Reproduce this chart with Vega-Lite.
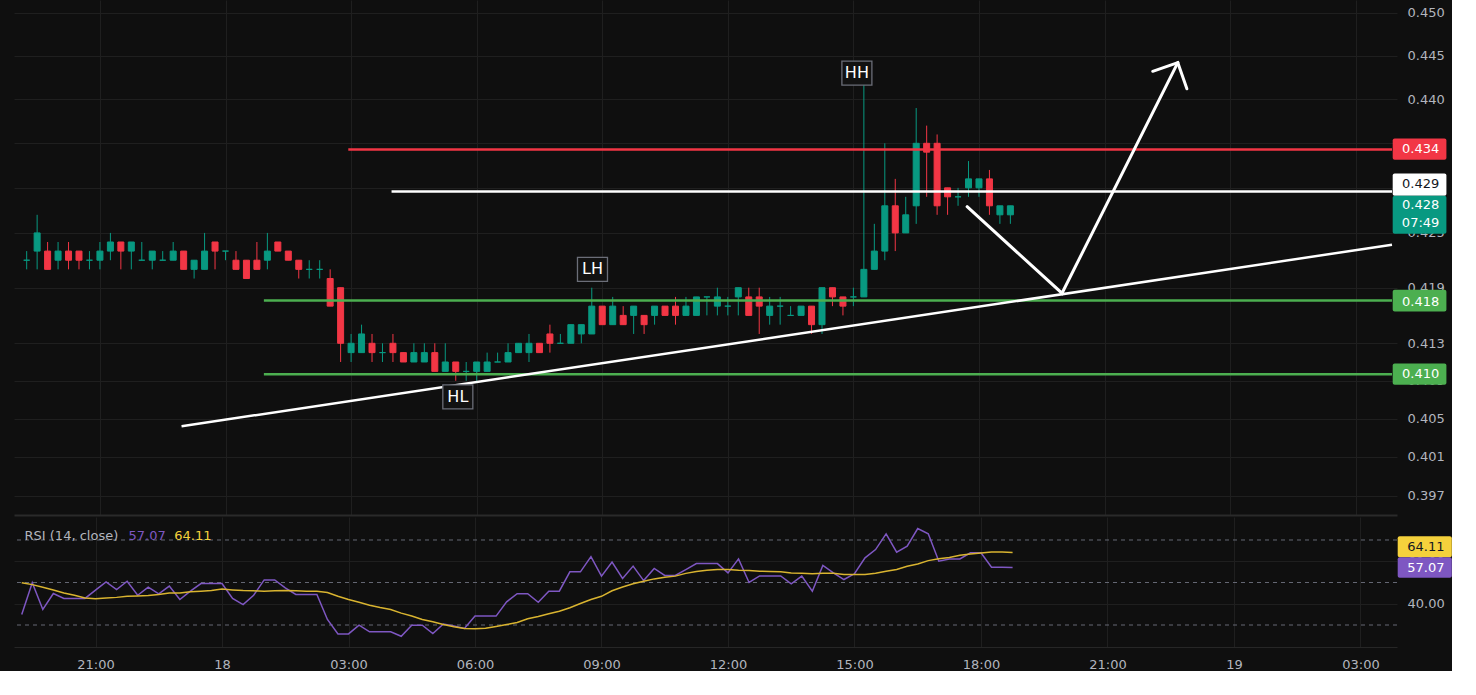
{
  "$schema": "https://vega.github.io/schema/vega-lite/v6.json",
  "background": "#0f0f0f",
  "padding": {"left": 13, "top": 0, "right": 0, "bottom": 0},
  "config": {
    "view": {"stroke": null},
    "font": "DejaVu Sans",
    "axis": {"labelFont": "DejaVu Sans", "labelFontSize": 13, "labelColor": "#b2b5be", "ticks": false, "domain": false, "gridColor": "#1f1f1f", "labelFlush": false},
    "concat": {"spacing": 2}
  },
  "datasets": {
    "candles": [
      {"t":"2024-05-17T19:15Z","o":0.422,"h":0.423,"l":0.421,"c":0.422,"rsi":34.9,"ma":49.9},
      {"t":"2024-05-17T19:30Z","o":0.423,"h":0.427,"l":0.421,"c":0.425,"rsi":49.9,"ma":49.0},
      {"t":"2024-05-17T19:45Z","o":0.423,"h":0.424,"l":0.421,"c":0.421,"rsi":37.3,"ma":47.8},
      {"t":"2024-05-17T20:00Z","o":0.422,"h":0.424,"l":0.421,"c":0.423,"rsi":44.8,"ma":46.5},
      {"t":"2024-05-17T20:15Z","o":0.423,"h":0.424,"l":0.421,"c":0.422,"rsi":42.5,"ma":45.1},
      {"t":"2024-05-17T20:30Z","o":0.423,"h":0.423,"l":0.421,"c":0.422,"rsi":42.5,"ma":44.0},
      {"t":"2024-05-17T20:45Z","o":0.422,"h":0.423,"l":0.421,"c":0.422,"rsi":42.5,"ma":42.7},
      {"t":"2024-05-17T21:00Z","o":0.422,"h":0.424,"l":0.421,"c":0.423,"rsi":46.4,"ma":42.4},
      {"t":"2024-05-17T21:15Z","o":0.423,"h":0.425,"l":0.422,"c":0.424,"rsi":50.3,"ma":42.7},
      {"t":"2024-05-17T21:30Z","o":0.424,"h":0.424,"l":0.421,"c":0.423,"rsi":46.7,"ma":43.0},
      {"t":"2024-05-17T21:45Z","o":0.423,"h":0.424,"l":0.421,"c":0.424,"rsi":50.6,"ma":43.5},
      {"t":"2024-05-17T22:00Z","o":0.422,"h":0.424,"l":0.422,"c":0.422,"rsi":44.0,"ma":43.7},
      {"t":"2024-05-17T22:15Z","o":0.422,"h":0.423,"l":0.421,"c":0.423,"rsi":47.8,"ma":43.9},
      {"t":"2024-05-17T22:30Z","o":0.422,"h":0.423,"l":0.422,"c":0.422,"rsi":44.7,"ma":44.4},
      {"t":"2024-05-17T22:45Z","o":0.422,"h":0.424,"l":0.422,"c":0.423,"rsi":48.3,"ma":45.1},
      {"t":"2024-05-17T23:00Z","o":0.423,"h":0.423,"l":0.421,"c":0.421,"rsi":42.0,"ma":45.1},
      {"t":"2024-05-17T23:15Z","o":0.421,"h":0.422,"l":0.420,"c":0.422,"rsi":45.9,"ma":45.6},
      {"t":"2024-05-17T23:30Z","o":0.421,"h":0.425,"l":0.421,"c":0.423,"rsi":49.5,"ma":45.9},
      {"t":"2024-05-17T23:45Z","o":0.424,"h":0.424,"l":0.421,"c":0.423,"rsi":49.5,"ma":46.2},
      {"t":"2024-05-18T00:00Z","o":0.423,"h":0.423,"l":0.422,"c":0.423,"rsi":49.5,"ma":46.9},
      {"t":"2024-05-18T00:15Z","o":0.422,"h":0.423,"l":0.421,"c":0.421,"rsi":42.5,"ma":46.5},
      {"t":"2024-05-18T00:30Z","o":0.422,"h":0.422,"l":0.420,"c":0.420,"rsi":39.6,"ma":46.2},
      {"t":"2024-05-18T00:45Z","o":0.422,"h":0.424,"l":0.421,"c":0.421,"rsi":44.0,"ma":46.1},
      {"t":"2024-05-18T01:00Z","o":0.422,"h":0.425,"l":0.421,"c":0.423,"rsi":51.2,"ma":45.9},
      {"t":"2024-05-18T01:15Z","o":0.424,"h":0.424,"l":0.423,"c":0.423,"rsi":51.2,"ma":46.1},
      {"t":"2024-05-18T01:30Z","o":0.423,"h":0.423,"l":0.422,"c":0.422,"rsi":47.5,"ma":46.2},
      {"t":"2024-05-18T01:45Z","o":0.422,"h":0.422,"l":0.420,"c":0.421,"rsi":44.4,"ma":46.1},
      {"t":"2024-05-18T02:00Z","o":0.421,"h":0.422,"l":0.420,"c":0.421,"rsi":44.4,"ma":45.9},
      {"t":"2024-05-18T02:15Z","o":0.421,"h":0.422,"l":0.420,"c":0.421,"rsi":44.4,"ma":45.9},
      {"t":"2024-05-18T02:30Z","o":0.420,"h":0.421,"l":0.417,"c":0.417,"rsi":32.6,"ma":45.3},
      {"t":"2024-05-18T02:45Z","o":0.419,"h":0.419,"l":0.411,"c":0.413,"rsi":25.8,"ma":43.5},
      {"t":"2024-05-18T03:00Z","o":0.412,"h":0.414,"l":0.411,"c":0.413,"rsi":25.8,"ma":42.0},
      {"t":"2024-05-18T03:15Z","o":0.412,"h":0.415,"l":0.412,"c":0.414,"rsi":29.9,"ma":40.7},
      {"t":"2024-05-18T03:30Z","o":0.413,"h":0.414,"l":0.411,"c":0.412,"rsi":26.8,"ma":39.3},
      {"t":"2024-05-18T03:45Z","o":0.412,"h":0.413,"l":0.411,"c":0.412,"rsi":26.8,"ma":38.2},
      {"t":"2024-05-18T04:00Z","o":0.413,"h":0.414,"l":0.411,"c":0.412,"rsi":26.8,"ma":37.3},
      {"t":"2024-05-18T04:15Z","o":0.412,"h":0.412,"l":0.411,"c":0.411,"rsi":24.7,"ma":35.6},
      {"t":"2024-05-18T04:30Z","o":0.411,"h":0.413,"l":0.411,"c":0.412,"rsi":29.9,"ma":34.2},
      {"t":"2024-05-18T04:45Z","o":0.411,"h":0.413,"l":0.411,"c":0.412,"rsi":29.9,"ma":32.6},
      {"t":"2024-05-18T05:00Z","o":0.412,"h":0.413,"l":0.410,"c":0.410,"rsi":26.0,"ma":31.5},
      {"t":"2024-05-18T05:15Z","o":0.410,"h":0.413,"l":0.410,"c":0.411,"rsi":30.5,"ma":30.2},
      {"t":"2024-05-18T05:30Z","o":0.411,"h":0.411,"l":0.409,"c":0.410,"rsi":29.5,"ma":29.2},
      {"t":"2024-05-18T05:45Z","o":0.410,"h":0.411,"l":0.409,"c":0.410,"rsi":28.4,"ma":28.4},
      {"t":"2024-05-18T06:00Z","o":0.410,"h":0.411,"l":0.409,"c":0.411,"rsi":34.2,"ma":28.2},
      {"t":"2024-05-18T06:15Z","o":0.410,"h":0.412,"l":0.410,"c":0.411,"rsi":34.2,"ma":28.5},
      {"t":"2024-05-18T06:30Z","o":0.411,"h":0.412,"l":0.411,"c":0.411,"rsi":34.2,"ma":29.3},
      {"t":"2024-05-18T06:45Z","o":0.411,"h":0.413,"l":0.411,"c":0.412,"rsi":40.9,"ma":30.2},
      {"t":"2024-05-18T07:00Z","o":0.412,"h":0.413,"l":0.412,"c":0.413,"rsi":44.7,"ma":31.2},
      {"t":"2024-05-18T07:15Z","o":0.412,"h":0.414,"l":0.411,"c":0.413,"rsi":44.7,"ma":32.9},
      {"t":"2024-05-18T07:30Z","o":0.413,"h":0.413,"l":0.412,"c":0.412,"rsi":40.7,"ma":34.0},
      {"t":"2024-05-18T07:45Z","o":0.414,"h":0.415,"l":0.412,"c":0.413,"rsi":45.9,"ma":35.3},
      {"t":"2024-05-18T08:00Z","o":0.413,"h":0.414,"l":0.413,"c":0.413,"rsi":45.9,"ma":36.5},
      {"t":"2024-05-18T08:15Z","o":0.413,"h":0.415,"l":0.413,"c":0.415,"rsi":55.0,"ma":38.1},
      {"t":"2024-05-18T08:30Z","o":0.414,"h":0.415,"l":0.413,"c":0.415,"rsi":55.0,"ma":40.1},
      {"t":"2024-05-18T08:45Z","o":0.414,"h":0.419,"l":0.414,"c":0.417,"rsi":62.2,"ma":42.0},
      {"t":"2024-05-18T09:00Z","o":0.417,"h":0.417,"l":0.415,"c":0.415,"rsi":53.0,"ma":43.5},
      {"t":"2024-05-18T09:15Z","o":0.415,"h":0.418,"l":0.415,"c":0.417,"rsi":59.6,"ma":46.1},
      {"t":"2024-05-18T09:30Z","o":0.416,"h":0.417,"l":0.415,"c":0.415,"rsi":51.9,"ma":47.9},
      {"t":"2024-05-18T09:45Z","o":0.416,"h":0.417,"l":0.414,"c":0.417,"rsi":57.7,"ma":49.4},
      {"t":"2024-05-18T10:00Z","o":0.416,"h":0.416,"l":0.414,"c":0.415,"rsi":50.9,"ma":50.6},
      {"t":"2024-05-18T10:15Z","o":0.416,"h":0.417,"l":0.415,"c":0.417,"rsi":56.6,"ma":51.7},
      {"t":"2024-05-18T10:30Z","o":0.417,"h":0.417,"l":0.416,"c":0.416,"rsi":53.3,"ma":52.5},
      {"t":"2024-05-18T10:45Z","o":0.417,"h":0.418,"l":0.415,"c":0.416,"rsi":53.3,"ma":53.0},
      {"t":"2024-05-18T11:00Z","o":0.416,"h":0.418,"l":0.416,"c":0.417,"rsi":56.1,"ma":54.3},
      {"t":"2024-05-18T11:15Z","o":0.416,"h":0.418,"l":0.416,"c":0.418,"rsi":58.9,"ma":55.2},
      {"t":"2024-05-18T11:30Z","o":0.418,"h":0.418,"l":0.416,"c":0.418,"rsi":58.9,"ma":55.8},
      {"t":"2024-05-18T11:45Z","o":0.417,"h":0.419,"l":0.416,"c":0.418,"rsi":58.9,"ma":56.1},
      {"t":"2024-05-18T12:00Z","o":0.417,"h":0.418,"l":0.416,"c":0.417,"rsi":54.5,"ma":56.1},
      {"t":"2024-05-18T12:15Z","o":0.418,"h":0.419,"l":0.416,"c":0.419,"rsi":61.1,"ma":55.8},
      {"t":"2024-05-18T12:30Z","o":0.418,"h":0.419,"l":0.416,"c":0.416,"rsi":50.0,"ma":55.7},
      {"t":"2024-05-18T12:45Z","o":0.418,"h":0.419,"l":0.414,"c":0.417,"rsi":53.1,"ma":55.3},
      {"t":"2024-05-18T13:00Z","o":0.416,"h":0.418,"l":0.415,"c":0.417,"rsi":53.1,"ma":55.2},
      {"t":"2024-05-18T13:15Z","o":0.417,"h":0.418,"l":0.415,"c":0.417,"rsi":53.1,"ma":55.0},
      {"t":"2024-05-18T13:30Z","o":0.416,"h":0.417,"l":0.416,"c":0.416,"rsi":49.4,"ma":54.5},
      {"t":"2024-05-18T13:45Z","o":0.416,"h":0.417,"l":0.416,"c":0.417,"rsi":53.0,"ma":54.4},
      {"t":"2024-05-18T14:00Z","o":0.417,"h":0.417,"l":0.414,"c":0.415,"rsi":45.9,"ma":54.1},
      {"t":"2024-05-18T14:15Z","o":0.415,"h":0.419,"l":0.414,"c":0.419,"rsi":58.0,"ma":54.4},
      {"t":"2024-05-18T14:30Z","o":0.419,"h":0.419,"l":0.417,"c":0.418,"rsi":54.5,"ma":54.3},
      {"t":"2024-05-18T14:45Z","o":0.418,"h":0.418,"l":0.416,"c":0.417,"rsi":51.4,"ma":53.8},
      {"t":"2024-05-18T15:00Z","o":0.418,"h":0.419,"l":0.417,"c":0.418,"rsi":54.1,"ma":53.8},
      {"t":"2024-05-18T15:15Z","o":0.418,"h":0.442,"l":0.418,"c":0.421,"rsi":61.6,"ma":53.8},
      {"t":"2024-05-18T15:30Z","o":0.421,"h":0.426,"l":0.421,"c":0.423,"rsi":65.5,"ma":54.4},
      {"t":"2024-05-18T15:45Z","o":0.423,"h":0.435,"l":0.422,"c":0.428,"rsi":72.9,"ma":55.3},
      {"t":"2024-05-18T16:00Z","o":0.428,"h":0.431,"l":0.423,"c":0.425,"rsi":64.3,"ma":56.1},
      {"t":"2024-05-18T16:15Z","o":0.425,"h":0.429,"l":0.425,"c":0.427,"rsi":67.1,"ma":57.6},
      {"t":"2024-05-18T16:30Z","o":0.428,"h":0.439,"l":0.426,"c":0.435,"rsi":75.4,"ma":58.7},
      {"t":"2024-05-18T16:45Z","o":0.435,"h":0.437,"l":0.429,"c":0.434,"rsi":72.9,"ma":60.3},
      {"t":"2024-05-18T17:00Z","o":0.435,"h":0.436,"l":0.427,"c":0.428,"rsi":60.0,"ma":61.2},
      {"t":"2024-05-18T17:15Z","o":0.430,"h":0.430,"l":0.427,"c":0.429,"rsi":61.1,"ma":61.8},
      {"t":"2024-05-18T17:30Z","o":0.429,"h":0.430,"l":0.428,"c":0.429,"rsi":61.1,"ma":62.8},
      {"t":"2024-05-18T17:45Z","o":0.430,"h":0.433,"l":0.429,"c":0.431,"rsi":64.0,"ma":63.4},
      {"t":"2024-05-18T18:00Z","o":0.430,"h":0.431,"l":0.429,"c":0.431,"rsi":64.0,"ma":63.9},
      {"t":"2024-05-18T18:15Z","o":0.431,"h":0.432,"l":0.427,"c":0.428,"rsi":57.2,"ma":64.3},
      {"t":"2024-05-18T18:30Z","o":0.427,"h":0.428,"l":0.426,"c":0.428,"rsi":57.2,"ma":64.3},
      {"t":"2024-05-18T18:45Z","o":0.427,"h":0.428,"l":0.426,"c":0.428,"rsi":57.07,"ma":64.11}
    ],
    "levels": [
      {"kind":"res","p":0.4343,"t0":"2024-05-18T02:56Z","t1":"2024-05-19T03:52Z"},
      {"kind":"piv","p":0.4296,"t0":"2024-05-18T03:58Z","t1":"2024-05-19T03:52Z"},
      {"kind":"sup","p":0.4176,"t0":"2024-05-18T00:55Z","t1":"2024-05-19T03:52Z"},
      {"kind":"sup","p":0.4097,"t0":"2024-05-18T00:55Z","t1":"2024-05-19T03:52Z"}
    ],
    "trend": [
      {"t":"2024-05-17T22:57Z","p":0.4042},
      {"t":"2024-05-19T03:52Z","p":0.4237}
    ],
    "arrow": [
      {"seg":"a","i":0,"t":"2024-05-18T17:43Z","p":0.4279},
      {"seg":"a","i":1,"t":"2024-05-18T19:59Z","p":0.4184},
      {"seg":"a","i":2,"t":"2024-05-18T22:45Z","p":0.4442},
      {"seg":"b","i":0,"t":"2024-05-18T22:09Z","p":0.4432},
      {"seg":"b","i":1,"t":"2024-05-18T22:45Z","p":0.4442},
      {"seg":"b","i":2,"t":"2024-05-18T22:58Z","p":0.4412}
    ],
    "pivots": [
      {"txt":"HH","t":"2024-05-18T15:05Z","p":0.4430},
      {"txt":"LH","t":"2024-05-18T08:46Z","p":0.4210},
      {"txt":"HL","t":"2024-05-18T05:33Z","p":0.4073}
    ],
    "tagboxes": [
      {"kind":"res","p1":0.43553,"p2":0.43316},
      {"kind":"piv","p1":0.43159,"p2":0.42913},
      {"kind":"cur","p1":0.42913,"p2":0.42492},
      {"kind":"sup","p1":0.41879,"p2":0.41641},
      {"kind":"sup","p1":0.41083,"p2":0.40859}
    ],
    "tagtexts": [
      {"txt":"0.434","p":0.4343,"ink":"inkl"},
      {"txt":"0.429","p":0.4304,"ink":"inkd"},
      {"txt":"0.428","p":0.4281,"ink":"inkl"},
      {"txt":"07:49","p":0.4261,"ink":"inkl"},
      {"txt":"0.418","p":0.4175,"ink":"inkl"},
      {"txt":"0.410","p":0.4097,"ink":"inkl"}
    ],
    "rsilevels": [{"v":70},{"v":50},{"v":30}],
    "rsihead": [
      {"txt":"RSI (14, close)","t":"2024-05-17T19:19Z","kind":"head"},
      {"txt":"57.07","t":"2024-05-17T21:47Z","kind":"rsi"},
      {"txt":"64.11","t":"2024-05-17T22:52Z","kind":"ma"}
    ],
    "rsiboxes": [
      {"kind":"ma","p1":71.8,"p2":61.9},
      {"kind":"rsi","p1":61.9,"p2":52.2}
    ],
    "rsitexts": [
      {"txt":"64.11","p":66.85,"ink":"inkd"},
      {"txt":"57.07","p":57.05,"ink":"inkl"}
    ]
  },
  "vconcat": [
    {
      "width": 1383,
      "height": 515,
      "layer": [
        {
          "data": {"name": "candles"},
          "mark": {"type": "rule", "strokeWidth": 1},
          "encoding": {
            "x": {
              "field": "t", "type": "temporal",
              "scale": {"type": "utc", "domain": [
                {"year": 2024, "month": 5, "date": 17, "hours": 19, "minutes": 4, "utc": true},
                {"year": 2024, "month": 5, "date": 19, "hours": 3, "minutes": 52, "utc": true}
              ]},
              "axis": {
                "title": null, "labels": false, "grid": true, "domain": true,
                "domainColor": "#2a2a2a", "domainWidth": 2,
                "values": [
                  {"year": 2024, "month": 5, "date": 17, "hours": 21, "utc": true},
                  {"year": 2024, "month": 5, "date": 18, "hours": 0, "utc": true},
                  {"year": 2024, "month": 5, "date": 18, "hours": 3, "utc": true},
                  {"year": 2024, "month": 5, "date": 18, "hours": 6, "utc": true},
                  {"year": 2024, "month": 5, "date": 18, "hours": 9, "utc": true},
                  {"year": 2024, "month": 5, "date": 18, "hours": 12, "utc": true},
                  {"year": 2024, "month": 5, "date": 18, "hours": 15, "utc": true},
                  {"year": 2024, "month": 5, "date": 18, "hours": 18, "utc": true},
                  {"year": 2024, "month": 5, "date": 18, "hours": 21, "utc": true},
                  {"year": 2024, "month": 5, "date": 19, "hours": 0, "utc": true},
                  {"year": 2024, "month": 5, "date": 19, "hours": 3, "utc": true}
                ]
              }
            },
            "y": {
              "field": "l", "type": "quantitative",
              "scale": {"type": "log", "domain": [0.395, 0.45148], "nice": false},
              "axis": {
                "title": null, "orient": "right", "grid": true, "format": ".3f", "labelPadding": 10,
                "values": [0.397, 0.401, 0.405, 0.409, 0.413, 0.419, 0.425, 0.43, 0.435, 0.44, 0.445, 0.45]
              }
            },
            "y2": {"field": "h"},
            "color": {"condition": {"test": "datum.c >= datum.o", "value": "#089981"}, "value": "#f23645"}
          }
        },
        {
          "data": {"name": "candles"},
          "mark": {"type": "bar", "width": 6, "strokeWidth": 1},
          "encoding": {
            "x": {"field": "t", "type": "temporal"},
            "y": {"field": "o", "type": "quantitative"},
            "y2": {"field": "c"},
            "color": {"condition": {"test": "datum.c >= datum.o", "value": "#089981"}, "value": "#f23645"},
            "stroke": {"condition": {"test": "datum.c >= datum.o", "value": "#089981"}, "value": "#f23645"}
          }
        },
        {
          "mark": {"type": "rule", "color": "#089981", "strokeDash": [1, 3], "strokeWidth": 1},
          "encoding": {"y": {"datum": 0.428, "type": "quantitative"}}
        },
        {
          "data": {"name": "levels"},
          "mark": {"type": "rule", "strokeWidth": 2.5},
          "encoding": {
            "x": {"field": "t0", "type": "temporal"},
            "x2": {"field": "t1"},
            "y": {"field": "p", "type": "quantitative"},
            "color": {
              "field": "kind", "type": "nominal", "legend": null,
              "scale": {"domain": ["res", "piv", "sup", "cur", "inkl", "inkd"], "range": ["#f23645", "#ffffff", "#4caf50", "#089981", "#ffffff", "#131722"]}
            }
          }
        },
        {
          "data": {"name": "trend"},
          "mark": {"type": "line", "color": "#ffffff", "strokeWidth": 2.5},
          "encoding": {
            "x": {"field": "t", "type": "temporal"},
            "y": {"field": "p", "type": "quantitative"}
          }
        },
        {
          "data": {"name": "arrow"},
          "mark": {"type": "line", "color": "#ffffff", "strokeWidth": 3, "strokeCap": "round", "strokeJoin": "miter"},
          "encoding": {
            "x": {"field": "t", "type": "temporal"},
            "y": {"field": "p", "type": "quantitative"},
            "detail": {"field": "seg"},
            "order": {"field": "i"}
          }
        },
        {
          "data": {"name": "pivots"},
          "mark": {"type": "point", "shape": "M-1,-0.8L1,-0.8L1,0.8L-1,0.8Z", "size": 900, "filled": true, "fill": "#121212", "stroke": "#6b6e78", "strokeWidth": 1.3, "opacity": 1},
          "encoding": {
            "x": {"field": "t", "type": "temporal"},
            "y": {"field": "p", "type": "quantitative"}
          }
        },
        {
          "data": {"name": "pivots"},
          "mark": {"type": "text", "color": "#ffffff", "fontSize": 16, "baseline": "middle", "align": "center"},
          "encoding": {
            "x": {"field": "t", "type": "temporal"},
            "y": {"field": "p", "type": "quantitative"},
            "text": {"field": "txt"}
          }
        },
        {
          "data": {"name": "tagboxes"},
          "mark": {"type": "bar", "cornerRadius": 2},
          "encoding": {
            "x": {"datum": {"year": 2024, "month": 5, "date": 19, "hours": 3, "minutes": 53, "utc": true}, "type": "temporal"},
            "x2": {"datum": {"year": 2024, "month": 5, "date": 19, "hours": 5, "minutes": 10, "utc": true}},
            "y": {"field": "p1", "type": "quantitative"},
            "y2": {"field": "p2"},
            "color": {"field": "kind", "type": "nominal", "legend": null}
          }
        },
        {
          "data": {"name": "tagtexts"},
          "mark": {"type": "text", "fontSize": 13, "baseline": "middle", "align": "center"},
          "encoding": {
            "x": {"datum": {"year": 2024, "month": 5, "date": 19, "hours": 4, "minutes": 33, "utc": true}, "type": "temporal"},
            "y": {"field": "p", "type": "quantitative"},
            "text": {"field": "txt"},
            "color": {"field": "ink", "type": "nominal", "legend": null}
          }
        }
      ]
    },
    {
      "width": 1383,
      "height": 130,
      "layer": [
        {
          "mark": {"type": "rect", "color": "#7e57c2", "opacity": 0.1},
          "encoding": {
            "y": {"datum": 70, "type": "quantitative"},
            "y2": {"datum": 30}
          }
        },
        {
          "data": {"name": "rsilevels"},
          "mark": {"type": "rule", "color": "#666975", "strokeDash": [4, 4], "strokeWidth": 1},
          "encoding": {"y": {"field": "v", "type": "quantitative"}}
        },
        {
          "data": {"name": "candles"},
          "mark": {"type": "line", "color": "#7e57c2", "strokeWidth": 1.5},
          "encoding": {
            "x": {
              "field": "t", "type": "temporal",
              "scale": {"type": "utc", "domain": [
                {"year": 2024, "month": 5, "date": 17, "hours": 19, "minutes": 4, "utc": true},
                {"year": 2024, "month": 5, "date": 19, "hours": 3, "minutes": 52, "utc": true}
              ]},
              "axis": {
                "title": null, "grid": true, "domain": true, "domainColor": "#262626", "labelPadding": 11,
                "labelExpr": "utchours(datum.value) == 0 ? utcFormat(datum.value, '%-d') : utcFormat(datum.value, '%H:%M')",
                "values": [
                  {"year": 2024, "month": 5, "date": 17, "hours": 21, "utc": true},
                  {"year": 2024, "month": 5, "date": 18, "hours": 0, "utc": true},
                  {"year": 2024, "month": 5, "date": 18, "hours": 3, "utc": true},
                  {"year": 2024, "month": 5, "date": 18, "hours": 6, "utc": true},
                  {"year": 2024, "month": 5, "date": 18, "hours": 9, "utc": true},
                  {"year": 2024, "month": 5, "date": 18, "hours": 12, "utc": true},
                  {"year": 2024, "month": 5, "date": 18, "hours": 15, "utc": true},
                  {"year": 2024, "month": 5, "date": 18, "hours": 18, "utc": true},
                  {"year": 2024, "month": 5, "date": 18, "hours": 21, "utc": true},
                  {"year": 2024, "month": 5, "date": 19, "hours": 0, "utc": true},
                  {"year": 2024, "month": 5, "date": 19, "hours": 3, "utc": true}
                ]
              }
            },
            "y": {
              "field": "rsi", "type": "quantitative",
              "scale": {"domain": [19.65, 80.82], "nice": false, "zero": false},
              "axis": {"title": null, "orient": "right", "grid": true, "values": [40, 60], "format": ".2f", "labelPadding": 10}
            }
          }
        },
        {
          "data": {"name": "candles"},
          "mark": {"type": "line", "color": "#d9b430", "strokeWidth": 1.5},
          "encoding": {
            "x": {"field": "t", "type": "temporal"},
            "y": {"field": "ma", "type": "quantitative"}
          }
        },
        {
          "data": {"name": "rsihead"},
          "mark": {"type": "text", "fontSize": 13, "align": "left", "baseline": "middle"},
          "encoding": {
            "x": {"field": "t", "type": "temporal"},
            "y": {"datum": 72.1, "type": "quantitative"},
            "text": {"field": "txt"},
            "color": {
              "field": "kind", "type": "nominal", "legend": null,
              "scale": {"domain": ["head", "rsi", "ma", "inkd", "inkl"], "range": ["#b2b5be", "#7e57c2", "#f5d13c", "#131722", "#ffffff"]}
            }
          }
        },
        {
          "data": {"name": "rsiboxes"},
          "mark": {"type": "bar", "cornerRadius": 2},
          "encoding": {
            "x": {"datum": {"year": 2024, "month": 5, "date": 19, "hours": 3, "minutes": 53, "utc": true}, "type": "temporal"},
            "x2": {"datum": {"year": 2024, "month": 5, "date": 19, "hours": 5, "minutes": 10, "utc": true}},
            "y": {"field": "p1", "type": "quantitative"},
            "y2": {"field": "p2"},
            "color": {"field": "kind", "type": "nominal", "legend": null}
          }
        },
        {
          "data": {"name": "rsitexts"},
          "mark": {"type": "text", "fontSize": 13, "baseline": "middle", "align": "center"},
          "encoding": {
            "x": {"datum": {"year": 2024, "month": 5, "date": 19, "hours": 4, "minutes": 33, "utc": true}, "type": "temporal"},
            "y": {"field": "p", "type": "quantitative"},
            "text": {"field": "txt"},
            "color": {"field": "ink", "type": "nominal", "legend": null}
          }
        }
      ]
    }
  ],
  "resolve": {"scale": {"x": "independent", "y": "independent", "color": "independent"}}
}
